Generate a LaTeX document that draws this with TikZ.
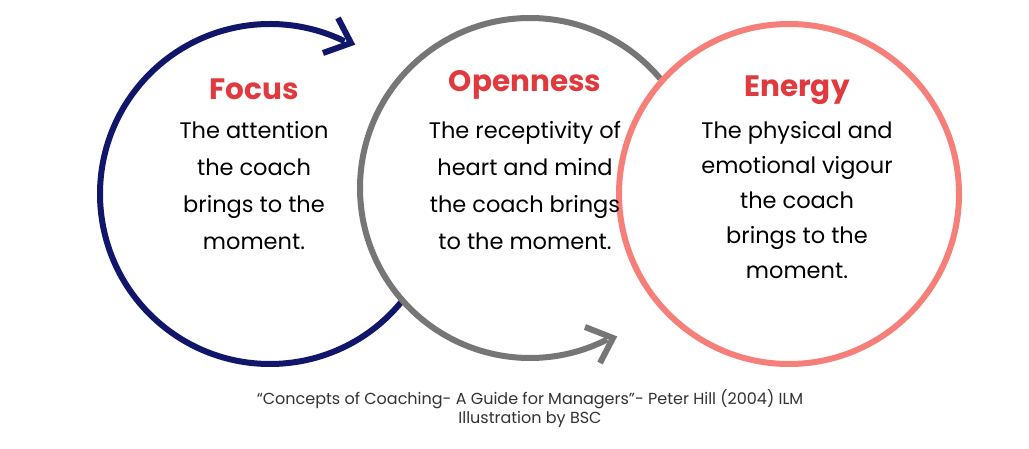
\documentclass[tikz,border=0pt]{standalone}
\usepackage{fontspec}
\setmainfont{Poppins}
\newfontfamily\titlefont{Poppins}[UprightFont=* Bold]
\definecolor{navyc}{HTML}{10166A}
\definecolor{grayc}{HTML}{767676}
\definecolor{pinkc}{HTML}{F77F7A}
\definecolor{titlec}{HTML}{E0393E}
\definecolor{footc}{HTML}{333333}
\tikzset{
  ring/.style={line width=6pt},
  chev/.style={line width=6pt, line join=miter, miter limit=10},
  ttl/.style={text=titlec, font=\titlefont\fontsize{29.5}{32}\selectfont, inner sep=0pt},
  body/.style={align=center, font=\fontsize{22.5}{37}\selectfont, inner sep=0pt},
  foot/.style={align=center, text=footc, font=\fontsize{16}{19}\selectfont, inner sep=0pt}
}
\begin{document}
\begin{tikzpicture}[x=1pt,y=-1pt]
\useasboundingbox[fill=white] (0,0) rectangle (1029,449);
% circles
\coordinate (cN) at (270,194);
\coordinate (cG) at (530,188);
\coordinate (cP) at (789,194);
\draw[ring, navyc] ([shift={(39:170)}]cN) arc[start angle=39, end angle=296, radius=170];
\draw[chev, navyc] (338,18) -- (351,43) -- (323,53);
\draw[ring, grayc] ([shift={(-40:170)}]cG) arc[start angle=-40, end angle=-297, radius=170];
\draw[chev, grayc] (585,327) -- (613,338) -- (600,363);
\draw[ring, pinkc] (cP) circle[radius=170];
% texts
\node[ttl] (t1) at (254,89) {Focus};
\node[body, anchor=north] (b1) at (254,121) {The attention\\the coach\\brings to the\\moment.};
\node[ttl] (t2) at (525,85) {Openness};
\node[body, anchor=north] (b2) at (525,121) {The receptivity of\\heart and mind\\the coach brings\\to the moment.};
\node[ttl] (t3) at (797,90) {Energy};
\node[body, anchor=north, font=\fontsize{22.5}{35}\selectfont] (b3) at (797,121) {The physical and\\emotional vigour\\the coach\\brings to the\\moment.};
\node[foot] (f) at (530,409) {“Concepts of Coaching- A Guide for Managers”- Peter Hill (2004) ILM\\Illustration by BSC};
\end{tikzpicture}
\end{document}
